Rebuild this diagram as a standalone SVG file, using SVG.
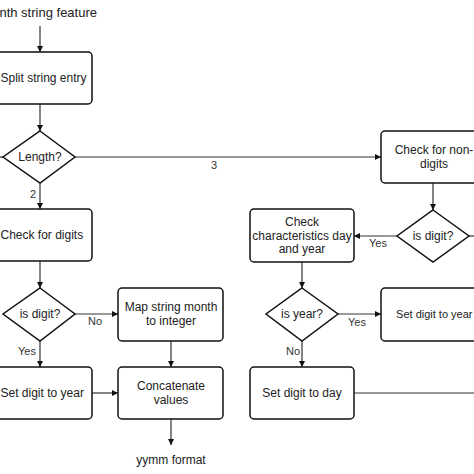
<svg xmlns="http://www.w3.org/2000/svg" width="474" height="474" viewBox="0 0 474 474">
<style>
.box{fill:#fff;stroke:#111;stroke-width:1.5}
.t{font-family:"Liberation Sans",Arial,sans-serif;font-size:12px;fill:#222;text-anchor:middle}
.s{text-anchor:start}
.l{font-family:"Liberation Sans",Arial,sans-serif;font-size:11px;fill:#333;text-anchor:middle}
.c{fill:none;stroke:#333;stroke-width:1.2}
.ca{fill:none;stroke:#333;stroke-width:1.2;marker-end:url(#ah)}
</style>
<defs>
<marker id="ah" viewBox="0 0 10 10" refX="10" refY="5" markerWidth="6" markerHeight="6" markerUnits="userSpaceOnUse" orient="auto">
<path d="M0,0 L10,5 L0,10 z" fill="#111"/>
</marker>
</defs>
<rect width="474" height="474" fill="#fff"/>
<g id="connectors">
<line class="ca" x1="40" y1="26" x2="40" y2="52"/>
<line class="ca" x1="40" y1="104" x2="40" y2="131"/>
<line class="c" x1="0" y1="157" x2="3" y2="157"/>
<line class="ca" x1="75" y1="157" x2="381" y2="157"/>
<line class="ca" x1="40" y1="183" x2="40" y2="209"/>
<line class="ca" x1="40" y1="261" x2="40" y2="288"/>
<line class="ca" x1="75" y1="314" x2="118" y2="314"/>
<line class="ca" x1="40" y1="341" x2="40" y2="367"/>
<line class="ca" x1="171" y1="341" x2="171" y2="367"/>
<line class="ca" x1="92" y1="393" x2="118" y2="393"/>
<line class="ca" x1="171" y1="419" x2="171" y2="445"/>
<line class="ca" x1="433" y1="183" x2="433" y2="210"/>
<line class="ca" x1="397" y1="236" x2="354" y2="236"/>
<line class="c" x1="469" y1="236" x2="474" y2="236"/>
<line class="ca" x1="302" y1="262" x2="302" y2="288"/>
<line class="ca" x1="338" y1="314" x2="381" y2="314"/>
<line class="ca" x1="302" y1="341" x2="302" y2="367"/>
<line class="c" x1="354" y1="393" x2="474" y2="393"/>
<text class="l" x="214" y="169">3</text>
<text class="l" x="33" y="198">2</text>
<text class="l" x="95" y="325">No</text>
<text class="l" x="27" y="355">Yes</text>
<text class="l" x="378" y="247">Yes</text>
<text class="l" x="357" y="326">Yes</text>
<text class="l" x="293" y="355">No</text>
</g>
<g id="start"><text class="t" x="97" y="17" style="text-anchor:end;font-size:13px">nth string feature</text></g>
<g id="split"><rect class="box" x="-12" y="52" width="104" height="52" rx="4"/><text class="t s" x="0.5" y="82">Split string entry</text></g>
<g id="length"><polygon class="box" points="40,131 75,157 40,183 3,157"/><text class="t" x="40" y="161">Length?</text></g>
<g id="checkdigits"><rect class="box" x="-12" y="209" width="104" height="52" rx="4"/><text class="t s" x="0.5" y="239">Check for digits</text></g>
<g id="isdigit1"><polygon class="box" points="40,288 75,314 40,341 3,314"/><text class="t" x="40" y="318">is digit?</text></g>
<g id="mapmonth"><rect class="box" x="118" y="288" width="105" height="53" rx="4"/><text class="t" x="171" y="311">Map string month</text><text class="t" x="171" y="325">to integer</text></g>
<g id="setyear1"><rect class="box" x="-12" y="367" width="104" height="52" rx="4"/><text class="t s" x="0.5" y="397">Set digit to year</text></g>
<g id="concat"><rect class="box" x="118" y="367" width="105" height="52" rx="4"/><text class="t" x="171" y="390">Concatenate</text><text class="t" x="171" y="404">values</text></g>
<g id="end"><text class="t" x="171" y="464">yymm format</text></g>
<g id="checknondigits"><rect class="box" x="381" y="131" width="106" height="52" rx="4"/><text class="t" x="434" y="154">Check for non-</text><text class="t" x="434" y="168">digits</text></g>
<g id="isdigit2"><polygon class="box" points="433,210 469,236 433,262 397,236"/><text class="t" x="433" y="240">is digit?</text></g>
<g id="checkchar"><rect class="box" x="250" y="209" width="104" height="53" rx="4"/><text class="t" x="302" y="226">Check</text><text class="t" x="302" y="240">characteristics day</text><text class="t" x="302" y="253">and year</text></g>
<g id="isyear"><polygon class="box" points="302,288 338,314 302,341 266,314"/><text class="t" x="302" y="318">is year?</text></g>
<g id="setyear2"><rect class="box" x="381" y="288" width="106" height="53" rx="4"/><text class="t" x="472.5" y="318" style="text-anchor:end;font-size:11px">Set digit to year</text></g>
<g id="setday"><rect class="box" x="250" y="367" width="104" height="52" rx="4"/><text class="t" x="302" y="397">Set digit to day</text></g>
</svg>
